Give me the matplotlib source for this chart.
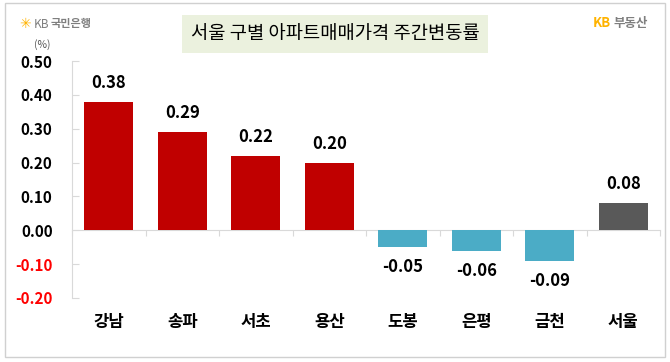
import matplotlib
matplotlib.use("Agg")
import matplotlib.pyplot as plt
import matplotlib.transforms as mtransforms
from matplotlib.patches import Rectangle

plt.rcParams['font.family'] = ['Noto Sans CJK KR', 'DejaVu Sans']

categories = ['강남', '송파', '서초', '용산', '도봉', '은평', '금천', '서울']
values = [0.38, 0.29, 0.22, 0.20, -0.05, -0.06, -0.09, 0.08]
value_labels = ['0.38', '0.29', '0.22', '0.20', '-0.05', '-0.06', '-0.09', '0.08']
colors = ['#C00000', '#C00000', '#C00000', '#C00000', '#4BACC6', '#4BACC6', '#4BACC6', '#595959']
yticks = [0.50, 0.40, 0.30, 0.20, 0.10, 0.00, -0.10, -0.20]
ytick_labels = ['0.50', '0.40', '0.30', '0.20', '0.10', '0.00', '-0.10', '-0.20']
title = '서울 구별 아파트매매가격 주간변동률'

W, H = 670, 362
fig = plt.figure(figsize=(W / 100, H / 100), dpi=100)
fig.patch.set_facecolor('white')

# outer border
fig.patches.append(Rectangle((5 / W, 1 - 357 / H), 660 / W, 354 / H, transform=fig.transFigure,
                             fill=False, edgecolor='#D0D0D0', linewidth=1.0))

ax = fig.add_axes([72 / W, 1 - 298 / H, (660 - 72) / W, (298 - 61) / H])
x = list(range(len(categories)))
ax.bar(x, values, width=0.67, color=colors, zorder=2)
ax.set_xlim(-0.5, len(categories) - 0.5)
ax.set_ylim(-0.20, 0.50)

for s in ['top', 'right']:
    ax.spines[s].set_visible(False)
ax.spines['left'].set_color('#D9D9D9')
ax.spines['bottom'].set_position(('data', 0))
ax.spines['bottom'].set_color('#D9D9D9')
ax.spines['bottom'].set_zorder(1)

ax.set_yticks(yticks)
ax.set_yticklabels(ytick_labels, fontsize=11, fontweight='bold')
for lbl, v in zip(ax.get_yticklabels(), yticks):
    lbl.set_color('#FF0000' if v < 0 else '#000000')
ax.tick_params(axis='y', direction='in', length=5, color='#D9D9D9', pad=14)

ax.set_xticks([i + 0.5 for i in range(-1, len(categories))])
ax.set_xticklabels([])
ax.tick_params(axis='x', direction='out', length=4, color='#D9D9D9')

blend = mtransforms.blended_transform_factory(ax.transData, ax.transAxes)
for i, c in enumerate(categories):
    ax.text(i, -0.10, c, transform=blend, ha='center', va='center', fontsize=12, fontweight='bold')

for i, (v, t) in enumerate(zip(values, value_labels)):
    if v >= 0:
        ax.annotate(t, (i, v), xytext=(0, 7), textcoords='offset points', ha='center', va='bottom',
                    fontsize=12, fontweight='bold')
    else:
        ax.annotate(t, (i, v), xytext=(0, -8), textcoords='offset points', ha='center', va='top',
                    fontsize=12, fontweight='bold')

# (%) unit
fig.text(42 / W, 1 - 45 / H, '(%)', ha='center', va='center', fontsize=7.5, color='#555555')

# title
fig.text(335 / W, 1 - 34 / H, title, ha='center', va='center', fontsize=13.5, color='#000000',
         bbox=dict(boxstyle='square,pad=0.45', facecolor='#EBF1DE', edgecolor='none'))

# logos
fig.text(19 / W, 1 - 24 / H, '✳', ha='left', va='center', fontsize=10, color='#FFB300',
         family=['DejaVu Sans'])
fig.text(34 / W, 1 - 24 / H, 'KB', ha='left', va='center', fontsize=8.5, color='#7F7F7F')
fig.text(51 / W, 1 - 24 / H, '국민은행', ha='left', va='center', fontsize=8, color='#7F7F7F',
         fontweight='bold')
fig.text(593 / W, 1 - 23 / H, 'KB', ha='left', va='center', fontsize=9.5, color='#FFB300',
         fontweight='bold')
fig.text(613 / W, 1 - 23 / H, '부동산', ha='left', va='center', fontsize=9, color='#7F7F7F',
         fontweight='bold')

fig.savefig('out.png', dpi=100)
